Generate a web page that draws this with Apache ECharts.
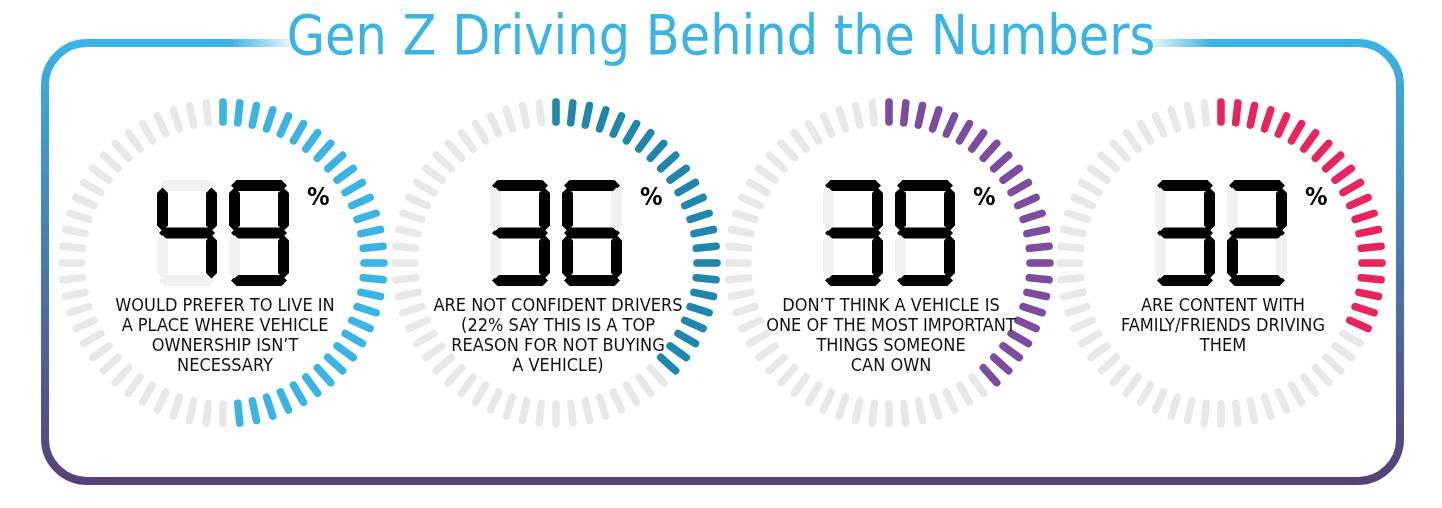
<!DOCTYPE html>
<html><head><meta charset="utf-8">
<script src="https://cdn.jsdelivr.net/npm/echarts@6/dist/echarts.min.js"></script>
<style>html,body{margin:0;background:#fff}#c{width:1442px;height:508px}</style>
</head><body><div id="c"></div>
<script>
var title = 'Gen Z Driving Behind the Numbers';
var values = [49, 36, 39, 32];
var captions = [
    "WOULD PREFER TO LIVE IN\nA PLACE WHERE VEHICLE\nOWNERSHIP ISN\u2019T\nNECESSARY",
    "ARE NOT CONFIDENT DRIVERS\n(22% SAY THIS IS A TOP\nREASON FOR NOT BUYING\nA VEHICLE)",
    "DON\u2019T THINK A VEHICLE IS\nONE OF THE MOST IMPORTANT\nTHINGS SOMEONE\nCAN OWN",
    "ARE CONTENT WITH\nFAMILY/FRIENDS DRIVING\nTHEM"
];
var colors = ['#3ab4e4', '#1f86ad', '#7d4c9e', '#e8245f'];
var centersX = [223, 556, 889, 1221];
var centerY = 263;
var SEGS = 60;

var chart = echarts.init(document.getElementById('c'));
var series = [], graphic = [];

// frame
graphic.push({type:'rect', shape:{x:45,y:43,width:1355,height:438,r:42}, z:1,
    style:{fill:'none', lineWidth:8, stroke:new echarts.graphic.LinearGradient(0,0,0,1,[{offset:0,color:'#3ab4e4'},{offset:1,color:'#573f78'}])}});
graphic.push({type:'rect', shape:{x:230,y:30,width:982,height:26}, z:2,
    style:{fill:new echarts.graphic.LinearGradient(0,0,1,0,[{offset:0,color:'rgba(255,255,255,0)'},{offset:0.07,color:'#fff'},{offset:0.93,color:'#fff'},{offset:1,color:'rgba(255,255,255,0)'}])}});
graphic.push({type:'text', x:721, y:40, z:3, style:{text:title, fill:'#3ab4e4', font:'500 55px "Liberation Sans Narrow", "DejaVu Sans Condensed", sans-serif', textAlign:'center', textVerticalAlign:'middle'}});

// seven segment
var MAP = {0:'abcdef',1:'bc',2:'abged',3:'abgcd',4:'fgbc',5:'afgcd',6:'afgedc',7:'abc',8:'abcdefg',9:'abcdfg'};
function hseg(cx, cy, len, t){
    return [[cx-len/2,cy],[cx-len/2+t/2,cy-t/2],[cx+len/2-t/2,cy-t/2],[cx+len/2,cy],[cx+len/2-t/2,cy+t/2],[cx-len/2+t/2,cy+t/2]];
}
function vseg(cx, cy, len, t){
    return [[cx,cy-len/2],[cx+t/2,cy-len/2+t/2],[cx+t/2,cy+len/2-t/2],[cx,cy+len/2],[cx-t/2,cy+len/2-t/2],[cx-t/2,cy-len/2+t/2]];
}
function drawDigit(x, y, d){
    var w = 60, h = 106, t = 11, g = 2;
    var segs = {
        a: hseg(x+w/2, y+t/2, w-2*g, t),
        d: hseg(x+w/2, y+h-t/2, w-2*g, t),
        g: hseg(x+w/2, y+h/2, w-2*g, t),
        f: vseg(x+t/2, y+h/4+t/4, h/2-2*g-t/2, t),
        b: vseg(x+w-t/2, y+h/4+t/4, h/2-2*g-t/2, t),
        e: vseg(x+t/2, y+3*h/4-t/4, h/2-2*g-t/2, t),
        c: vseg(x+w-t/2, y+3*h/4-t/4, h/2-2*g-t/2, t)
    };
    for (var k in segs) {
        var on = MAP[d].indexOf(k) >= 0;
        graphic.push({type:'polygon', z:5, shape:{points:segs[k]}, style:{fill: on ? '#000' : '#f1f1f1'}});
    }
}

values.forEach(function(v, i){
    var cx = centersX[i];
    var common = {type:'gauge', center:[cx, centerY], radius:151, min:0, max:100,
        axisLine:{show:false}, axisTick:{show:false}, axisLabel:{show:false},
        pointer:{show:false}, detail:{show:false}, title:{show:false}, progress:{show:false}};
    series.push(Object.assign({}, common, {startAngle:90, endAngle:-270, splitNumber:SEGS,
        splitLine:{length:20, distance:-20, lineStyle:{color:'#e8e8e9', width:7.5, cap:'round'}}, z:1}));
    var n = Math.round(SEGS * v / 100);
    series.push(Object.assign({}, common, {startAngle:90, endAngle:90 - 360 * n / SEGS, splitNumber:n,
        splitLine:{length:20, distance:-20, lineStyle:{color:colors[i], width:7.5, cap:'round'}}, z:2}));
    var digits = String(v).split('');
    var left = cx - 66;
    drawDigit(left, 180, +digits[0]);
    drawDigit(left + 72, 180, +digits[1]);
    graphic.push({type:'text', z:5, x:left + 150, y:186, style:{text:'%', fill:'#000', font:'bold 25px "Liberation Sans Narrow", "DejaVu Sans Condensed", sans-serif'}});
    graphic.push({type:'text', z:5, x:cx + 2, y:296, style:{text:captions[i], fill:'#111', lineHeight:20, textAlign:'center', font:'18px "Liberation Sans Narrow", "DejaVu Sans Condensed", sans-serif'}});
});

chart.setOption({animation:false, series:series, graphic:graphic});
</script>
</body></html>
